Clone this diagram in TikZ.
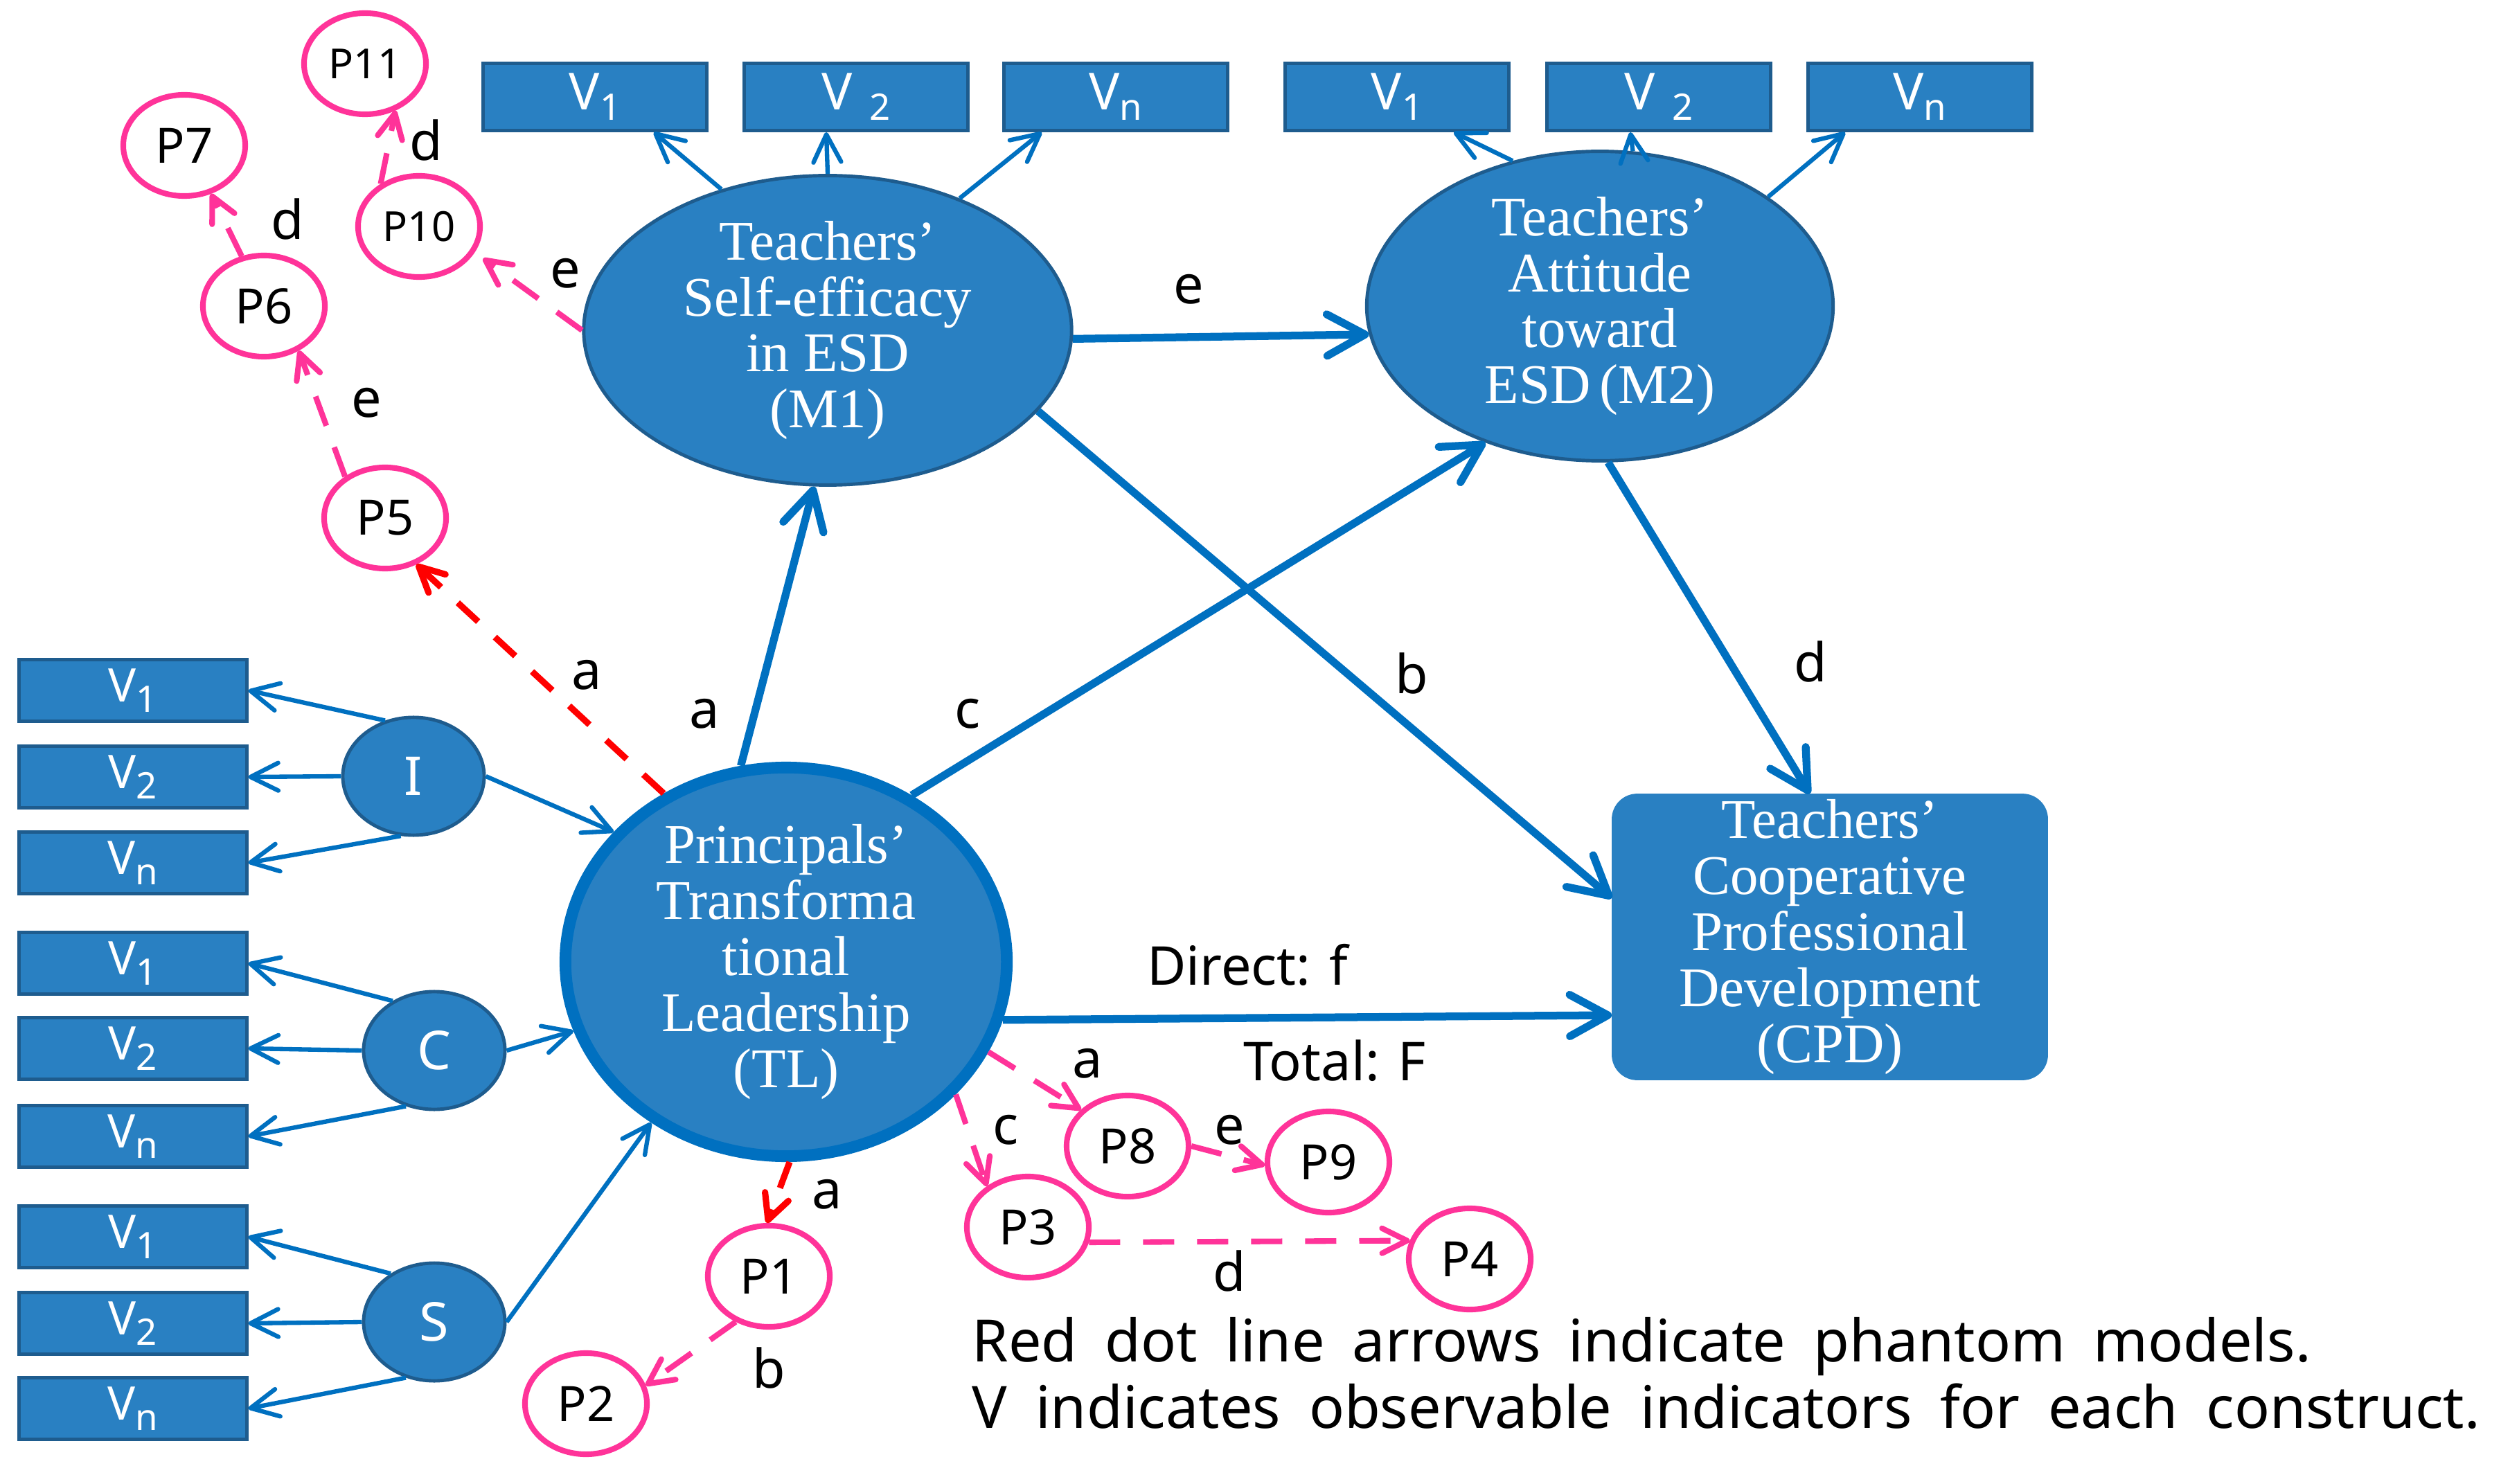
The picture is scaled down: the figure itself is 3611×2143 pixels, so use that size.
\documentclass[tikz,border=0pt]{standalone}
\usepackage{fontspec}
\setmainfont{Noto Sans}
\newfontfamily\serf{Liberation Serif}
\usetikzlibrary{arrows.meta,shapes.geometric,calc}
\definecolor{bfill}{RGB}{41,128,194}
\definecolor{bdark}{RGB}{30,92,142}
\definecolor{barrow}{RGB}{0,112,192}
\definecolor{pinkc}{RGB}{255,51,153}
\definecolor{redc}{RGB}{255,0,0}
\newcommand\vsb[1]{\raisebox{-0.15cm}{\fontsize{15}{15}\selectfont #1}}
\begin{document}
\begin{tikzpicture}[x=0.01cm,y=-0.01cm,
 lvbox/.style={rectangle, fill=bfill, draw=bdark, line width=1.4pt, minimum width=3.28cm, minimum height=0.89cm, inner sep=0pt, text=white, font=\fontsize{19}{19}\selectfont},
 tvbox/.style={lvbox, minimum width=3.23cm, minimum height=0.97cm, font=\fontsize{21}{21}\selectfont},
 lat/.style={ellipse, fill=bfill, draw=bdark, line width=1.4pt, inner sep=0pt, text=white, align=center, font=\serf\fontsize{23}{23}\selectfont},
 latsm/.style={ellipse, fill=bfill, draw=bdark, line width=1.4pt, minimum width=2.04cm, minimum height=1.7cm, inner sep=0pt, text=white, font=\fontsize{22}{22}\selectfont},
 ph/.style={ellipse, draw=pinkc, line width=2.3pt, minimum width=1.76cm, minimum height=1.46cm, inner sep=0pt, font=\fontsize{20}{20}\selectfont},
 phs/.style={ph, font=\fontsize{17}{17}\selectfont},
 lbl/.style={font=\fontsize{22}{22}\selectfont, inner sep=0pt},
 mainarr/.style={draw=barrow, line width=3.2pt, -{Straight Barb[length=0.55cm,width=0.6cm,round]}},
 thinarr/.style={draw=barrow, line width=1.8pt, -{Straight Barb[length=0.4cm,width=0.4cm,round]}},
 pdash/.style={draw=pinkc, line width=2.3pt, dash pattern=on 0.45cm off 0.33cm, -{Straight Barb[length=0.36cm,width=0.36cm,round]}},
 rdash/.style={draw=redc, line width=2.6pt, dash pattern=on 0.4cm off 0.33cm, -{Straight Barb[length=0.36cm,width=0.36cm,round]}},
]
\useasboundingbox (0,0) rectangle (3611,2143);

% top indicator boxes
\node[tvbox] (t1) at (859,140) {V\vsb{1}};
\node[tvbox] (t2) at (1236,140) {V\hspace{0.25cm}\vsb{2}};
\node[tvbox] (t3) at (1611,140) {V\vsb{n}};
\node[tvbox] (t4) at (2017,140) {V\vsb{1}};
\node[tvbox] (t5) at (2395,140) {V\hspace{0.25cm}\vsb{2}};
\node[tvbox] (t6) at (2772,140) {V\vsb{n}};

% left indicator boxes
\node[lvbox] (l1) at (192,997) {V\vsb{1}};
\node[lvbox] (l2) at (192,1122) {V\vsb{2}};
\node[lvbox] (l3) at (192,1246) {V\vsb{n}};
\node[lvbox] (l4) at (192,1391) {V\vsb{1}};
\node[lvbox] (l5) at (192,1514) {V\vsb{2}};
\node[lvbox] (l6) at (192,1641) {V\vsb{n}};
\node[lvbox] (l7) at (192,1786) {V\vsb{1}};
\node[lvbox] (l8) at (192,1911) {V\vsb{2}};
\node[lvbox] (l9) at (192,2034) {V\vsb{n}};

% latent constructs
\node[lat, minimum width=7.04cm, minimum height=4.46cm] (M1) at (1195,477) {Teachers’\\Self-efficacy\\in ESD\\(M1)};
\node[lat, minimum width=6.73cm, minimum height=4.24cm] (M2) at (2310,442) {Teachers’\\Attitude\\toward\\ESD\,(M2)};
\node[lat, draw=barrow, line width=4.8pt, minimum width=6.37cm, minimum height=4.89cm] (TL) at (1135,1389) {Principals’\\Transforma\\tional\\Leadership\\(TL)};
\node[rectangle, rounded corners=0.35cm, fill=bfill, draw=bfill, line width=1pt, minimum width=6.26cm, minimum height=4.1cm, inner sep=0pt, text=white, align=center, font=\serf\fontsize{23}{23}\selectfont] (CPD) at (2642,1353) {Teachers’\\Cooperative\\Professional\\Development\\(CPD)};

\node[latsm] (I) at (597,1121) {I};
\node[latsm] (C) at (627,1517) {C};
\node[latsm] (S) at (627,1909) {S};

% phantom nodes
\node[phs] (P11) at (527,92) {P11};
\node[ph] (P7) at (266,210) {P7};
\node[phs] (P10) at (605,327) {P10};
\node[ph] (P6) at (381,442) {P6};
\node[ph] (P5) at (556,748) {P5};
\node[ph] (P1) at (1110,1843) {P1};
\node[ph] (P2) at (846,2027) {P2};
\node[ph] (P3) at (1484,1772) {P3};
\node[ph] (P8) at (1628,1655) {P8};
\node[ph] (P9) at (1918,1678) {P9};
\node[ph] (P4) at (2122,1818) {P4};

% measurement arrows
\draw[thinarr] (M1.127) -- ($(t1.south)+(85,0)$);
\draw[thinarr] (M1.90) -- ($(t2.south)+(-43,0)$);
\draw[thinarr] (M1.45) -- ($(t3.south)+(-107,0)$);
\draw[thinarr] (M2.121) -- ($(t4.south)+(82,0)$);
\draw[thinarr] (M2.78) -- ($(t5.south)+(-41,0)$);
\draw[thinarr] (M2.33) -- ($(t6.south)+(-108,0)$);

\draw[thinarr] (I.117) -- (l1.east);
\draw[thinarr] (I.west) -- (l2.east);
\draw[thinarr] (I.258) -- (l3.east);
\draw[thinarr] (C.130) -- (l4.east);
\draw[thinarr] (C.west) -- (l5.east);
\draw[thinarr] (C.243) -- (l6.east);
\draw[thinarr] (S.132) -- (l7.east);
\draw[thinarr] (S.west) -- (l8.east);
\draw[thinarr] (S.243) -- (l9.east);

\draw[thinarr] (I.east) -- (TL.143);
\draw[thinarr] (C.east) -- (TL.198);
\draw[thinarr] (S.east) -- (TL.230);

% structural arrows
\draw[mainarr] (TL.103) -- (M1.265);
\draw[mainarr] (TL.53.5) -- (M2.230);
\draw[mainarr] (M1.358.5) -- (M2.187);
\draw[mainarr] (M1.339) -- ($(CPD.west)+(0,-56)$);
\draw[mainarr] (M2.273) -- ($(CPD.north)+(-29,0)$);
\draw[mainarr] (TL.345) -- ($(CPD.west)+(0,113)$);

% phantom paths
\draw[rdash] (TL.126) -- (P5.304);
\draw[rdash] (TL.271) -- (P1.92);
\draw[pdash] (P1.234) -- (P2.17);
\draw[pdash] (TL.322) -- (P3.135);
\draw[pdash] (TL.336) -- (P8.142);
\draw[pdash] (P8.east) -- (P9.183);
\draw[pdash] (P3.346) -- (P4.163);
\draw[pdash, shorten >=0.15cm] (M1.west) -- (P10.335);
\draw[pdash] (P10.132) -- (P11.303);
\draw[pdash] (P5.134) -- (P6.308);
\draw[pdash] (P6.114) -- (P7.299);

% labels
\node[lbl] (la1) at (615,202) {d};
\node[lbl] (la2) at (415,316) {d};
\node[lbl] (la3) at (816,395) {e};
\node[lbl] (la4) at (529,582) {e};
\node[lbl] (la5) at (1716,418) {e};
\node[lbl] (la6) at (847,975) {a};
\node[lbl] (la7) at (1017,1031) {a};
\node[lbl] (la8) at (1397,1031) {c};
\node[lbl] (la9) at (2038,972) {b};
\node[lbl] (la10) at (2614,955) {d};
\node[lbl] (la11) at (1801,1393) {Direct: f};
\node[lbl] (la12) at (1927,1532) {Total: F};
\node[lbl] (la13) at (1570,1536) {a};
\node[lbl] (la14) at (1452,1632) {c};
\node[lbl] (la15) at (1775,1632) {e};
\node[lbl] (la16) at (1775,1835) {d};
\node[lbl] (la17) at (1194,1725) {a};
\node[lbl] (la18) at (1110,1975) {b};

% notes
\node[anchor=west, inner sep=0pt, font=\fontsize{24}{24}\selectfont] (n1) at (1403,1945) {\makebox[19.32cm][s]{Red dot line arrows indicate phantom models.}};
\node[anchor=west, inner sep=0pt, font=\fontsize{24}{24}\selectfont] (n2) at (1403,2031) {\makebox[21.76cm][s]{V indicates observable indicators for each construct.}};
\end{tikzpicture}
\end{document}
